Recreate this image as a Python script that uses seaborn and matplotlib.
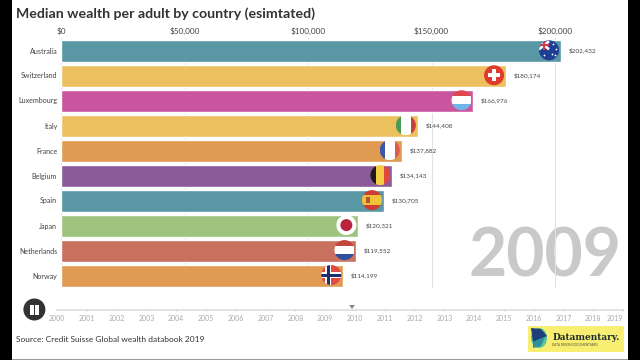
import numpy as np
import pandas as pd
import matplotlib
matplotlib.use("Agg")
import matplotlib.pyplot as plt
from matplotlib.patches import Circle, Rectangle, Polygon, Ellipse
import seaborn as sns

# ── Data ───────────────────────────────────────────────────────────────────────
countries = ["Australia", "Switzerland", "Luxembourg", "Italy", "France",
             "Belgium", "Spain", "Japan", "Netherlands", "Norway"]
wealth = [202432, 180174, 166976, 144408, 137882,
          134143, 130705, 120321, 119552, 114199]
bar_colors = ["#5997a5", "#ecc05f", "#c9559f", "#ecc05f", "#e09a52",
              "#8b5a99", "#5997a5", "#9fc47f", "#c9705f", "#e09a52"]
x_ticks = [0, 50000, 100000, 150000, 200000]
years = list(range(2000, 2020))
current_year = "2009"

TITLE = "Median wealth per adult by country (esimtated)"
SOURCE = "Source: Credit Suisse Global wealth databook 2019"

df = pd.DataFrame({"country": countries, "wealth": wealth})

sns.set_theme(style="white")
plt.rcParams["font.family"] = ["Lato", "DejaVu Sans"]

W, H = 640, 360
fig = plt.figure(figsize=(W / 100, H / 100), dpi=100, facecolor="white")


def px_axes(x0, y0, x1, y1, **kw):
    # axes from pixel box, y measured from the top of the picture
    return fig.add_axes([x0 / W, 1 - y1 / H, (x1 - x0) / W, (y1 - y0) / H], **kw)


# ── Bars ───────────────────────────────────────────────────────────────────────
ax = px_axes(61.4, 38, 628, 288)
ax.set_axisbelow(True)
sns.barplot(data=df, x="wealth", y="country", hue="country", palette=bar_colors,
            legend=False, width=0.88, saturation=1, ax=ax, zorder=2)
ax.set_xlim(0, (628 - 61.4) / 123.4 * 50000)
ax.set_ylim(9.5, -0.5)
ax.set_xlabel("")
ax.set_ylabel("")
ax.xaxis.tick_top()
ax.set_xticks(x_ticks)
ax.set_xticklabels([f"${v:,}" for v in x_ticks], fontsize=5.9, color="#444444")
ax.tick_params(axis="x", length=0, pad=2.5)
ax.tick_params(axis="y", length=0, pad=3, labelsize=5.1, labelcolor="#444444")
ax.grid(axis="x", color="#e2e2e2", lw=0.8)
ax.grid(axis="y", visible=False)
sns.despine(ax=ax, left=True, bottom=True, top=True, right=True)
ax.patch.set_alpha(0)

for i, v in enumerate(wealth):
    ax.text(v + 3100, i, f"${v:,}", fontsize=4.6, color="#444444", va="center", ha="left")

ax.text(0.989, 0.045, current_year, transform=ax.transAxes, fontsize=47.5, fontweight="bold",
        color="#c9c9c9", ha="right", va="baseline", zorder=0.2)

# ── Flags (drawn in picture pixels) ────────────────────────────────────────────
over = px_axes(0, 0, W, H)
over.set_xlim(0, W)
over.set_ylim(H, 0)
over.axis("off")
over.patch.set_alpha(0)


def flag_circle(cx, cy, r=10):
    return Circle((cx, cy), r, transform=over.transData)


def stripes(cx, cy, cols, weights, horizontal=True, r=10):
    clip = flag_circle(cx, cy, r)
    pos = 0
    total = sum(weights)
    for c, w in zip(cols, weights):
        size = 2 * r * w / total
        if horizontal:
            p = Rectangle((cx - r, cy - r + pos), 2 * r, size, fc=c, lw=0)
        else:
            p = Rectangle((cx - r + pos, cy - r), size, 2 * r, fc=c, lw=0)
        over.add_patch(p)
        p.set_clip_path(clip)
        pos += size


def flag_center(i):
    # flag sits at the end of its bar
    right = 61.4 + wealth[i] / 50000 * 123.4
    return right - 12, 50.3 + i * 24.97


# Australia
cx, cy = flag_center(0)
over.add_patch(Circle((cx, cy), 10, fc="#1f3f94", lw=0))
clip = flag_circle(cx, cy)
for seg, col, lw in [(((cx - 10, cy - 9), (cx, cy - 1)), "white", 2),
                     (((cx - 10, cy - 1), (cx, cy - 9)), "white", 2),
                     (((cx - 10, cy - 5), (cx, cy - 5)), "#d8344a", 1.5),
                     (((cx - 5, cy - 10), (cx - 5, cy)), "#d8344a", 1.5)]:
    l, = over.plot(*zip(*seg), color=col, lw=lw, solid_capstyle="butt")
    l.set_clip_path(clip)
for dx, dy in [(4, -6), (7, -1), (3, 4), (-5, 5), (6, 5)]:
    over.plot(cx + dx, cy + dy, "o", ms=1.3, color="white", mew=0)

# Switzerland
cx, cy = flag_center(1)
over.add_patch(Circle((cx, cy), 10, fc="#df3b2d", lw=0))
over.add_patch(Rectangle((cx - 6, cy - 2), 12, 4, fc="white", lw=0))
over.add_patch(Rectangle((cx - 2, cy - 6), 4, 12, fc="white", lw=0))

# Luxembourg, Italy, France, Belgium
stripes(*flag_center(2), ["#e0474c", "#ffffff", "#6fb5e8"], [3, 4, 3])
stripes(*flag_center(3), ["#4e9a55", "#ffffff", "#c9403a"], [1, 2, 1], horizontal=False)
stripes(*flag_center(4), ["#3a5aa8", "#ffffff", "#dd5a50"], [1, 2, 1], horizontal=False)
stripes(*flag_center(5), ["#1c1c1c", "#f5cc45", "#df4a3e"], [3, 4, 3], horizontal=False)

# Spain
stripes(*flag_center(6), ["#cf3b30", "#f0c23c", "#cf3b30"], [1, 2, 1])
cx, cy = flag_center(6)
over.add_patch(Rectangle((cx - 5.5, cy - 3), 4, 6, fc="#b5532d", lw=0))

# Japan
cx, cy = flag_center(7)
over.add_patch(Circle((cx, cy), 10, fc="white", lw=0))
over.add_patch(Circle((cx, cy), 6, fc="#b8243e", lw=0))

# Netherlands
stripes(*flag_center(8), ["#c0453c", "#ffffff", "#2f4f9c"], [3, 4, 3])

# Norway
cx, cy = flag_center(9)
over.add_patch(Circle((cx, cy), 10, fc="#df4a45", lw=0))
clip = flag_circle(cx, cy)
for rect, col in [(((cx - 10, cy - 3), 20, 6), "white"), (((cx - 6, cy - 10), 6, 20), "white"),
                  (((cx - 10, cy - 1.5), 20, 3), "#1c2f6b"), (((cx - 4.5, cy - 10), 3, 20), "#1c2f6b")]:
    p = Rectangle(rect[0], rect[1], rect[2], fc=col, lw=0)
    over.add_patch(p)
    p.set_clip_path(clip)

# ── Timeline ───────────────────────────────────────────────────────────────────
tl = px_axes(57, 300, 623, 310)
sns.lineplot(x=[years[0], years[-1]], y=[0, 0], color="#dddddd", lw=1.2, ax=tl, clip_on=False)
tl.set_xlim(years[0], years[-1])
tl.set_ylim(0, 1)
tl.set_xticks(years)
tl.set_xticklabels(years, fontsize=5, color="#aaaaaa")
tl.get_xticklabels()[-1].set_horizontalalignment("right")
tl.set_yticks([])
tl.set_xlabel("")
tl.tick_params(axis="x", length=2, width=0.6, direction="inout", color="#cccccc", pad=2.5, bottom=True)
sns.despine(ax=tl, left=True, bottom=True)
tl.patch.set_alpha(0)

over.add_patch(Circle((34.4, 309.5), 11, fc="#333333", lw=0))
over.add_patch(Rectangle((29.5, 304.5), 4, 10, fc="white", lw=0))
over.add_patch(Rectangle((35.2, 304.5), 4, 10, fc="white", lw=0))
over.add_patch(Polygon([(349, 305), (355, 305), (352, 309)], fc="#888888", lw=0))

# ── Title, source, logo, frame ─────────────────────────────────────────────────
fig.text(16 / W, 1 - 14 / H, TITLE, fontsize=10.15, fontweight="bold", color="#333333",
         va="center", ha="left")
fig.text(16 / W, 1 - 340 / H, SOURCE, fontsize=6.05, color="#333333", va="center", ha="left")

over.add_patch(Rectangle((528, 325.7), 96, 26.3, fc="#f7ee72", lw=0))
over.add_patch(Ellipse((539, 338), 16, 20, fc="#5cc2a0", lw=0))
over.add_patch(Polygon([(531, 328), (541, 329), (547, 336), (533, 342)], fc="#1c3f77", lw=0))
over.add_patch(Polygon([(533, 348), (533, 342), (545, 337), (541, 346)], fc="#2f8f9a", lw=0))
over.text(552.5, 337.5, "Datamentary.", fontsize=6.5, fontweight="bold", family="DejaVu Serif",
          color="#1c2b2b", va="center", ha="left")
over.text(552.5, 345, "DATA DRIVEN DOCUMENTARIES", fontsize=2.2, color="#555533", va="center", ha="left")

over.add_patch(Rectangle((0, 0), 12, H, fc="black", lw=0))
over.add_patch(Rectangle((628, 0), 12, H, fc="black", lw=0))
over.add_patch(Rectangle((12, 358.5), 616, 1.5, fc="#999999", lw=0))

fig.savefig("out.png", dpi=100)
